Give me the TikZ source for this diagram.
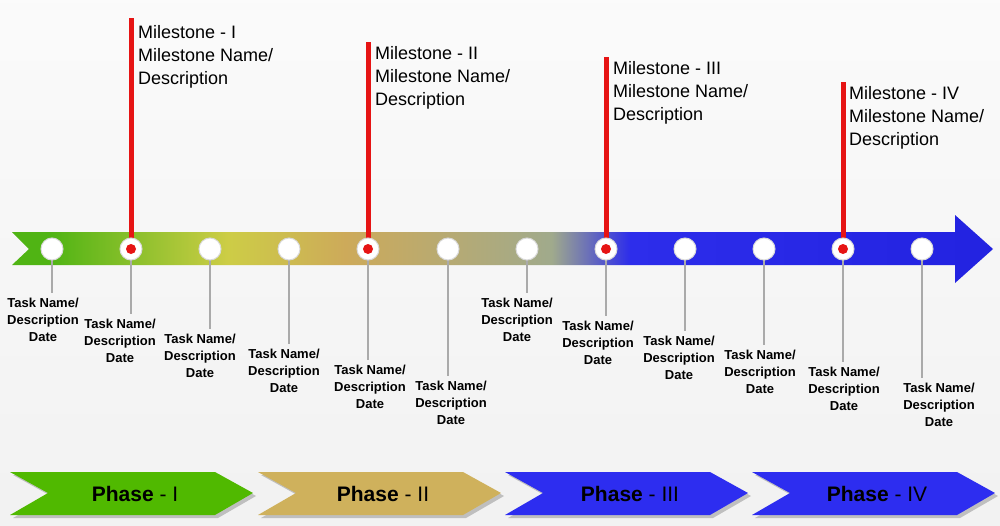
\documentclass[tikz,border=0pt]{standalone}
\usepackage{fontspec}
\setmainfont{Liberation Sans}
\definecolor{gA}{RGB}{80,180,20}
\definecolor{gB}{RGB}{205,205,70}
\definecolor{gC}{RGB}{205,170,90}
\definecolor{gD}{RGB}{160,170,140}
\definecolor{gE}{RGB}{45,45,235}
\definecolor{gF}{RGB}{20,20,210}
\definecolor{phG}{RGB}{80,185,0}
\definecolor{phT}{RGB}{207,177,92}
\definecolor{phB}{RGB}{45,45,240}
\definecolor{mred}{RGB}{230,20,20}
\definecolor{tgrey}{RGB}{170,170,170}
\pgfdeclarehorizontalshading{tl}{100bp}{color(0bp)=(gA); color(27bp)=(gA); color(36bp)=(gB); color(42bp)=(gC); color(52.5bp)=(gD); color(56.5bp)=(gE); color(100bp)=(gF)}
\pgfdeclareverticalshading{bgsh}{100bp}{color(0bp)=(black!7); color(100bp)=(white)}
\tikzset{
 dot/.style={circle,fill=white,draw=black!15,line width=1pt,minimum size=22pt,inner sep=0pt},
 mline/.style={mred,line width=5pt},
 tline/.style={tgrey,line width=2.5pt},
 tlab/.style={font=\bfseries\fontsize{13}{17}\selectfont,align=center,anchor=north,inner sep=0pt},
 mlab/.style={font=\fontsize{18}{23}\selectfont,align=left,anchor=north west,inner sep=0pt},
 ptxt/.style={font=\fontsize{21}{24}\selectfont,inner sep=0pt},
}
\begin{document}
\begin{tikzpicture}[x=1pt,y=-1pt]
\useasboundingbox (0,0) rectangle (1000,525);
\fill[shading=bgsh,shading angle=0] (0,0) rectangle (1000,525);
% arrow
\shade[shading=tl] (12,232) -- (955,232) -- (955,215) -- (993,249) -- (955,283) -- (955,265) -- (12,265) -- (29,249) -- cycle;
% milestones lines
\foreach \x/\t [count=\i] in {131/18,368/42,606/57,843/82}{
  \draw[mline] (\x,\t) -- (\x,249);
}
\node[mlab] (m1) at (138,25) {Milestone - I\\Milestone Name/\\Description};
\node[mlab] (m2) at (375,46) {Milestone - II\\Milestone Name/\\Description};
\node[mlab] (m3) at (613,61) {Milestone - III\\Milestone Name/\\Description};
\node[mlab] (m4) at (849,86) {Milestone - IV\\Milestone Name/\\Description};
% tasks
\foreach \x/\lx/\ly [count=\i] in {52/43/298,131/120/319,210/200/334,289/284/349,368/370/365,448/451/381,527/517/298,606/598/321,685/679/336,764/760/350,843/844/367,922/939/383}{
  \node[tlab] (t\i) at (\lx,\ly) {Task Name/\\Description\\Date};
  \draw[tline] (\x,249) -- (\x,\ly-5);
  \node[dot] (d\i) at (\x,249) {};
}
\foreach \x in {131,368,606,843}{\fill[mred] (\x,249) circle (5);}
% phases
\foreach \a/\c/\n [count=\i] in {10/phG/I,258/phT/II,505/phB/III,752/phB/IV}{
  \fill[black!25] (\a+3,475) -- (\a+208,475) -- (\a+246,496) -- (\a+208,518) -- (\a+3,518) -- (\a+41,496) -- cycle;
  \fill[\c] (\a,472) -- (\a+205,472) -- (\a+243,493) -- (\a+205,515) -- (\a,515) -- (\a+38,493) -- cycle;
  \node[ptxt] (p\i) at (\a+125,494) {\textbf{Phase} - \n};
}
\end{tikzpicture}
\end{document}
